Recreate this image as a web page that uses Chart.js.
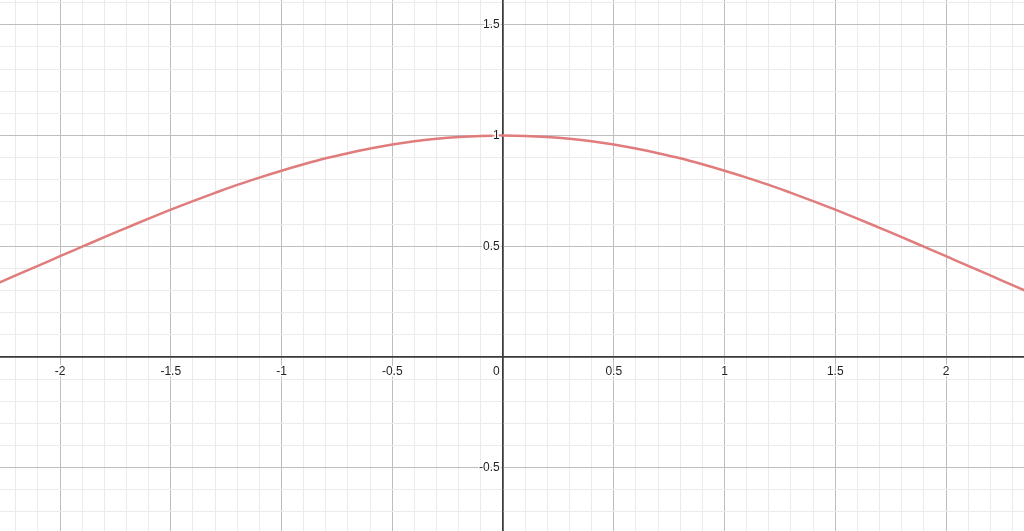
<!DOCTYPE html>
<html>
<head>
<meta charset="utf-8">
<script src="https://cdn.jsdelivr.net/npm/chart.js@4/dist/chart.umd.min.js"></script>
<style>
    html, body { margin: 0; padding: 0; background: #fff; }
    #wrap { width: 1024px; height: 531px; }
</style>
</head>
<body>
<div id="wrap"><canvas id="graph"></canvas></div>
<script>
// Curve samples
const xValues = [-2.3, -2.2, -2.1, -2.0, -1.9, -1.8, -1.7, -1.6, -1.5, -1.4, -1.3, -1.2,
    -1.1, -1.0, -0.9, -0.8, -0.7, -0.6, -0.5, -0.4, -0.3, -0.2, -0.1, 0,
    0.1, 0.2, 0.3, 0.4, 0.5, 0.6, 0.7, 0.8, 0.9, 1.0, 1.1, 1.2,
    1.3, 1.4, 1.5, 1.6, 1.7, 1.8, 1.9, 2.0, 2.1, 2.2, 2.3, 2.4];
const yValues = [0.324, 0.368, 0.411, 0.455, 0.498, 0.541, 0.583, 0.625, 0.665, 0.704, 0.741, 0.777,
    0.810, 0.841, 0.870, 0.897, 0.920, 0.941, 0.959, 0.974, 0.985, 0.993, 0.998, 1.0,
    0.998, 0.993, 0.985, 0.974, 0.959, 0.941, 0.920, 0.897, 0.870, 0.841, 0.810, 0.777,
    0.741, 0.704, 0.665, 0.625, 0.583, 0.541, 0.498, 0.455, 0.411, 0.368, 0.324, 0.281];

// Visible window and grid steps
const xRange = [-2.271, 2.352];
const yRange = [-0.786, 1.612];
const minorStep = 0.1;

const points = xValues.map((x, i) => ({ x: x, y: yValues[i] }));

// Helpers for grid styling
function isMajor(v) {
    return Math.abs(Math.round(v * 10)) % 5 === 0;
}
function isZero(v) {
    return Math.abs(v) < 1e-9;
}
function gridColor(ctx) {
    const v = ctx.tick.value;
    if (isZero(v)) return '#3a3a3a';
    return isMajor(v) ? '#bdbdbd' : '#ebebeb';
}
function gridWidth(ctx) {
    return isZero(ctx.tick.value) ? 1.5 : 1;
}
function fmt(v) {
    return String(Math.round(v * 10) / 10);
}
// Keep the plot edge to edge
function noPadding(scale) {
    scale.paddingTop = 0;
    scale.paddingBottom = 0;
    scale.paddingLeft = 0;
    scale.paddingRight = 0;
}

new Chart(document.getElementById('graph'), {
    type: 'scatter',
    data: {
        datasets: [{
            data: points,
            showLine: true,
            borderColor: '#e07c7c',
            borderWidth: 2.5,
            pointRadius: 0,
            cubicInterpolationMode: 'monotone',
            clip: 0
        }]
    },
    options: {
        responsive: true,
        maintainAspectRatio: false,
        animation: false,
        layout: { padding: 0 },
        plugins: {
            legend: { display: false },
            tooltip: { enabled: false }
        },
        scales: {
            x: {
                type: 'linear',
                position: { y: 0 },
                min: xRange[0],
                max: xRange[1],
                afterFit: noPadding,
                grid: { color: gridColor, lineWidth: gridWidth, drawTicks: false },
                border: { color: '#3a3a3a', width: 1.5 },
                ticks: {
                    z: 1,
                    stepSize: minorStep,
                    includeBounds: false,
                    autoSkip: false,
                    maxRotation: 0,
                    padding: 8,
                    color: '#222',
                    font: { family: 'Liberation Sans', size: 12 },
                    textStrokeColor: '#fff',
                    textStrokeWidth: 3,
                    callback: (v) => {
                        if (isZero(v)) return '0    ';
                        return isMajor(v) ? fmt(v) : '';
                    }
                }
            },
            y: {
                type: 'linear',
                position: { x: 0 },
                min: yRange[0],
                max: yRange[1],
                afterFit: noPadding,
                grid: { color: gridColor, lineWidth: gridWidth, drawTicks: false },
                border: { color: '#3a3a3a', width: 1.5 },
                ticks: {
                    z: 1,
                    stepSize: minorStep,
                    includeBounds: false,
                    autoSkip: false,
                    padding: 4,
                    color: '#222',
                    font: { family: 'Liberation Sans', size: 12 },
                    textStrokeColor: '#fff',
                    textStrokeWidth: 3,
                    callback: (v) => {
                        if (isZero(v)) return '';
                        return isMajor(v) ? fmt(v) + ' ' : '';
                    }
                }
            }
        }
    }
});
</script>
</body>
</html>
